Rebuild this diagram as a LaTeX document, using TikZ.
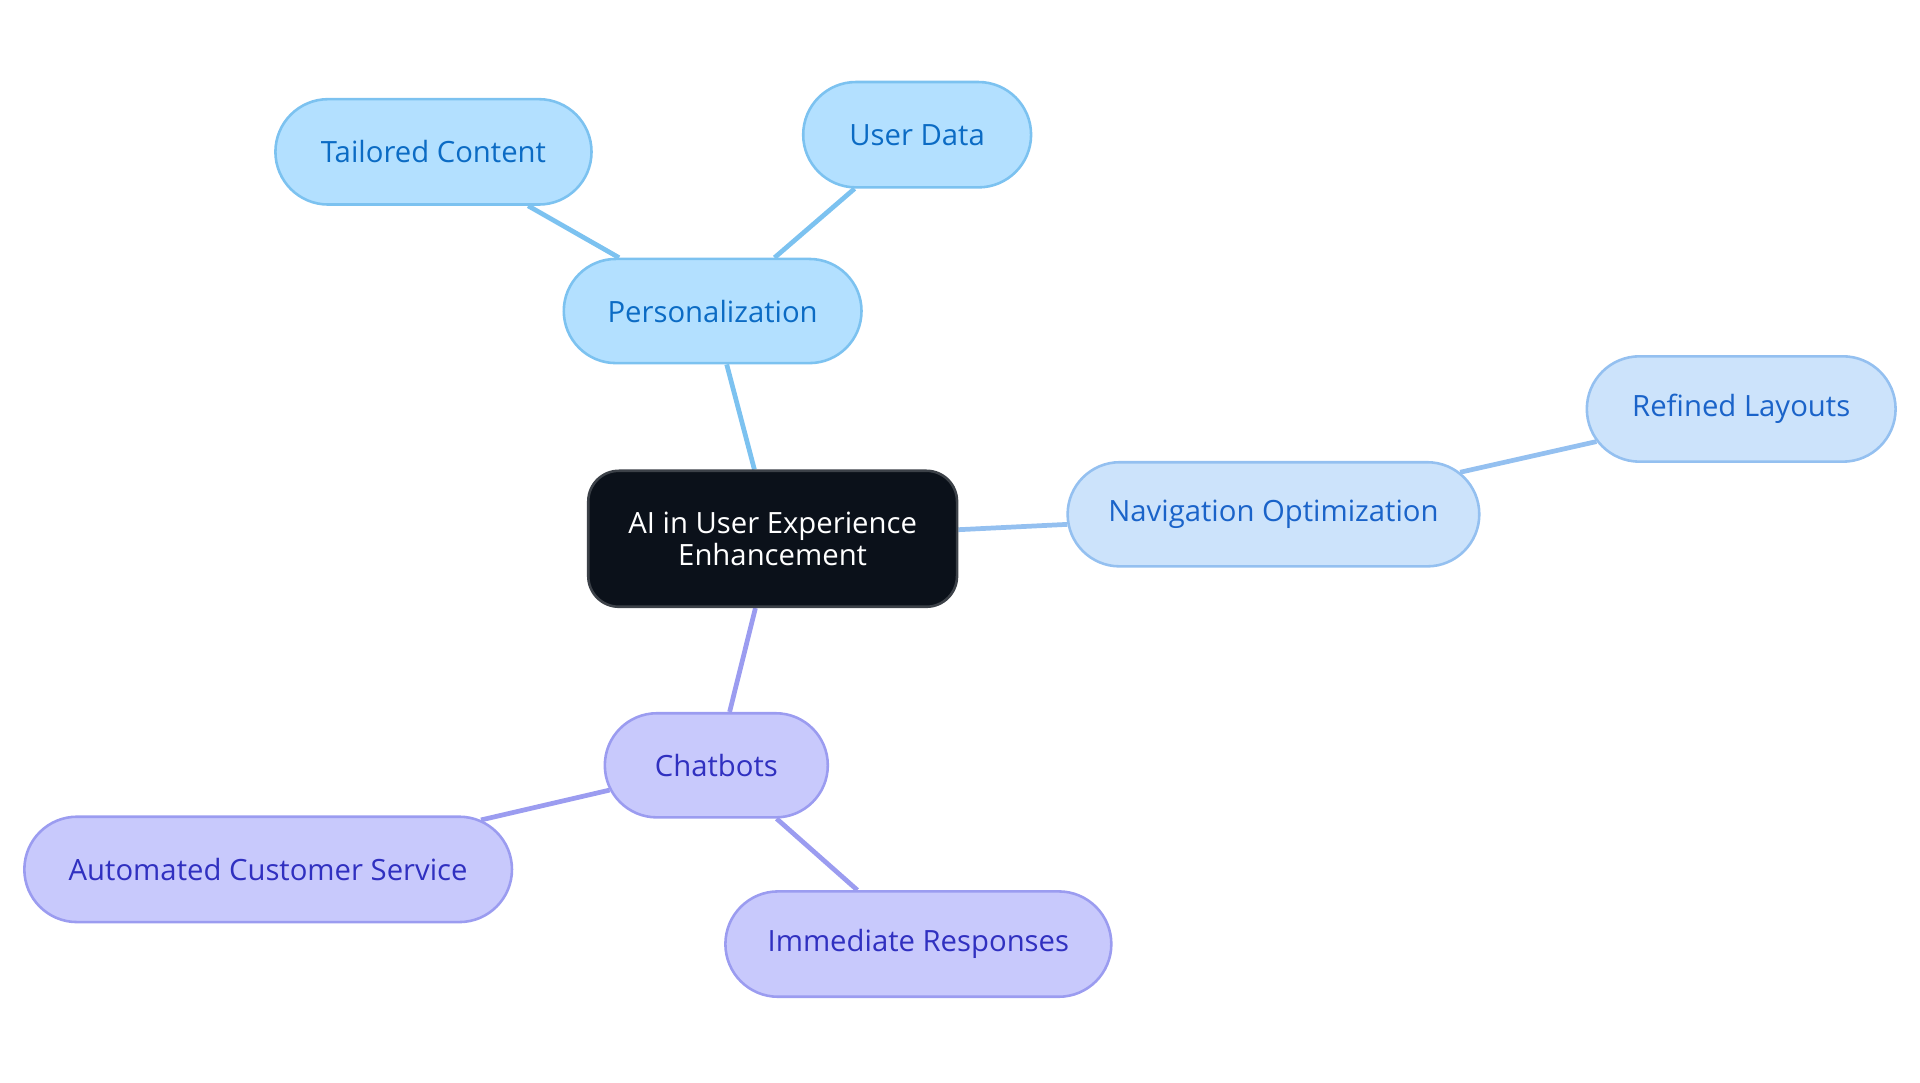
\documentclass[tikz,border=0pt]{standalone}
\usepackage{fontspec}
\setmainfont{Open Sans}
\usetikzlibrary{shapes.misc,backgrounds}
\definecolor{pfill}{HTML}{B3E0FF}\definecolor{pdraw}{HTML}{7CC2F0}\definecolor{ptext}{HTML}{0B6BC4}
\definecolor{nfill}{HTML}{CCE3FB}\definecolor{ndraw}{HTML}{94C0F0}\definecolor{ntext}{HTML}{1A63C9}
\definecolor{cfill}{HTML}{C8C9FC}\definecolor{cdraw}{HTML}{9B9CF0}\definecolor{ctext}{HTML}{3030C0}
\definecolor{root}{HTML}{0B111A}
\tikzset{
 bx/.style={rounded rectangle, rounded rectangle arc length=180, inner sep=0pt, font=\fontsize{6.8}{8.5}\selectfont, line width=0.6pt},
 pb/.style={bx, fill=pfill, draw=pdraw, text=ptext},
 nb/.style={bx, fill=nfill, draw=ndraw, text=ntext},
 cb/.style={bx, fill=cfill, draw=cdraw, text=ctext},
 pe/.style={draw=pdraw, line width=1.1pt},
 ne/.style={draw=ndraw, line width=1.1pt},
 ce/.style={draw=cdraw, line width=1.1pt},
}
\begin{document}
\begin{tikzpicture}[x=0.01cm,y=-0.01cm]
\useasboundingbox (0,0) rectangle (1568,884);
\node[rectangle, rounded corners=0.25cm, fill=root, draw=root!80!white, text=white, minimum width=3.01cm, minimum height=1.11cm, inner sep=0pt, line width=0.6pt, font=\fontsize{6.8}{7.6}\selectfont, align=center] (c) at (631,440) {AI in User Experience\\Enhancement};
\node[pb, minimum width=2.43cm, minimum height=0.85cm] (p) at (582,254) {Personalization};
\node[pb, minimum width=2.58cm, minimum height=0.86cm] (t) at (354,124) {Tailored Content};
\node[pb, minimum width=1.86cm, minimum height=0.86cm] (u) at (749,110) {User Data};
\node[nb, minimum width=3.36cm, minimum height=0.85cm] (n) at (1040,420) {Navigation Optimization};
\node[nb, minimum width=2.52cm, minimum height=0.86cm] (r) at (1422,334) {Refined Layouts};
\node[cb, minimum width=1.82cm, minimum height=0.85cm] (h) at (585,625) {Chatbots};
\node[cb, minimum width=3.98cm, minimum height=0.86cm] (a) at (219,710) {Automated Customer Service};
\node[cb, minimum width=3.15cm, minimum height=0.86cm] (i) at (750,771) {Immediate Responses};
\begin{scope}[on background layer]
\draw[pe] (c) -- (p); \draw[pe] (p) -- (t); \draw[pe] (p) -- (u);
\draw[ne] (c) -- (n); \draw[ne] (n) -- (r);
\draw[ce] (c) -- (h); \draw[ce] (h) -- (a); \draw[ce] (h) -- (i);
\end{scope}
\end{tikzpicture}
\end{document}
